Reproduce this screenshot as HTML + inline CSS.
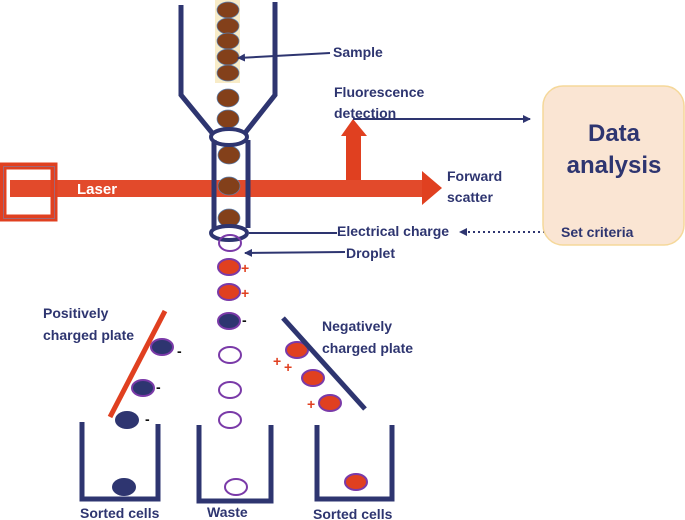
<!DOCTYPE html>
<html><head><style>body{margin:0;background:#fff}svg{display:block}text{font-family:"Liberation Sans",sans-serif;font-weight:bold;fill:#2e3570}</style></head>
<body>
<svg width="685" height="520" viewBox="0 0 685 520" xmlns="http://www.w3.org/2000/svg">
<defs><marker id="a" markerWidth="8" markerHeight="8" refX="7" refY="4" orient="auto" markerUnits="userSpaceOnUse"><path d="M0,0 L8,4 L0,8 z" fill="#2e3570"/></marker></defs>
<rect x="215" y="0" width="25" height="83" fill="#f8ecc8"/>
<!-- laser -->
<rect x="3" y="166" width="51" height="52" fill="#fff" stroke="#e04020" stroke-width="7"/>
<rect x="10" y="180" width="415" height="17" fill="#e04020" opacity="0.95"/>
<rect x="3.5" y="166.5" width="51" height="52" fill="none" stroke="#7a80b0" stroke-width="0.6"/>
<polygon points="422,171 442,188 422,205" fill="#e04020"/>
<text x="77" y="194" font-size="15" style="fill:#fff">Laser</text>
<g fill="none" stroke="#2e3570" stroke-width="5">
<polyline points="181,5 181,95 213,134"/>
<polyline points="275,2 275,95 245,133"/>
<line x1="214" y1="140" x2="214" y2="228"/><line x1="248" y1="140" x2="248" y2="228"/>
</g>
<g fill="#83401a" stroke="#5a7fb0" stroke-width="0.7">
<ellipse cx="228" cy="10" rx="11" ry="8"/><ellipse cx="228" cy="26" rx="11" ry="8"/><ellipse cx="228" cy="41" rx="11" ry="8"/><ellipse cx="228" cy="57" rx="11" ry="8"/><ellipse cx="228" cy="73" rx="11" ry="8"/>
<ellipse cx="228" cy="98" rx="11" ry="9"/><ellipse cx="228" cy="119" rx="11" ry="9"/><ellipse cx="229" cy="155" rx="11" ry="9"/><ellipse cx="229" cy="186" rx="11" ry="9"/><ellipse cx="229" cy="218" rx="11" ry="9"/>
</g>
<g fill="none" stroke="#2e3570" stroke-width="4">
<ellipse cx="229" cy="137" rx="18" ry="8"/><ellipse cx="229" cy="233" rx="18" ry="7"/>
</g>
<rect x="346" y="135" width="15" height="45" fill="#e04020"/>
<polygon points="341,136 353,119 367,136" fill="#e04020"/>
<line x1="353" y1="119" x2="530" y2="119" stroke="#2e3570" stroke-width="2" marker-end="url(#a)"/>
<line x1="330" y1="53" x2="238" y2="58" stroke="#2e3570" stroke-width="2" marker-end="url(#a)"/>
<line x1="249" y1="233" x2="337" y2="233" stroke="#2e3570" stroke-width="2"/>
<line x1="550" y1="232" x2="460" y2="232" stroke="#2e3570" stroke-width="2" stroke-dasharray="2,3" marker-end="url(#a)"/>
<line x1="345" y1="252" x2="245" y2="253" stroke="#2e3570" stroke-width="2" marker-end="url(#a)"/>
<rect x="543" y="86" width="141" height="159" rx="20" fill="#fae5d3" stroke="#f5d89a" stroke-width="1.5"/>
<text x="614" y="141" font-size="24" text-anchor="middle">Data</text>
<text x="614" y="173" font-size="24" text-anchor="middle">analysis</text>
<g font-size="14">
<text x="333" y="57">Sample</text>
<text x="334" y="97">Fluorescence</text><text x="334" y="118">detection</text>
<text x="447" y="181">Forward</text><text x="447" y="202">scatter</text>
<text x="337" y="236">Electrical charge</text>
<text x="561" y="237">Set criteria</text>
<text x="346" y="258">Droplet</text>
<text x="43" y="318">Positively</text><text x="43" y="340">charged plate</text>
<text x="322" y="331">Negatively</text><text x="322" y="353">charged plate</text>
<text x="80" y="518">Sorted cells</text><text x="207" y="517">Waste</text><text x="313" y="519">Sorted cells</text>
</g>
<g stroke="#7a3aa8" stroke-width="2">
<ellipse cx="230" cy="243" rx="11" ry="8" fill="none"/>
<ellipse cx="229" cy="267" rx="11" ry="8" fill="#e04020"/>
<ellipse cx="229" cy="292" rx="11" ry="8" fill="#e04020"/>
<ellipse cx="229" cy="321" rx="11" ry="8" fill="#2e3570"/>
<ellipse cx="230" cy="355" rx="11" ry="8" fill="none"/>
<ellipse cx="230" cy="390" rx="11" ry="8" fill="none"/>
<ellipse cx="230" cy="420" rx="11" ry="8" fill="none"/>
<ellipse cx="236" cy="487" rx="11" ry="8" fill="none"/>
<ellipse cx="162" cy="347" rx="11" ry="8" fill="#2e3570"/>
<ellipse cx="143" cy="388" rx="11" ry="8" fill="#2e3570"/>
<ellipse cx="297" cy="350" rx="11" ry="8" fill="#e04020"/>
<ellipse cx="313" cy="378" rx="11" ry="8" fill="#e04020"/>
<ellipse cx="330" cy="403" rx="11" ry="8" fill="#e04020"/>
<ellipse cx="356" cy="482" rx="11" ry="8" fill="#e04020"/>
</g>
<ellipse cx="127" cy="420" rx="12" ry="9" fill="#2e3570"/>
<ellipse cx="124" cy="487" rx="12" ry="9" fill="#2e3570"/>
<g font-size="14">
<text x="241" y="273" style="fill:#e04020">+</text><text x="241" y="298" style="fill:#e04020">+</text>
<text x="273" y="366" style="fill:#e04020">+</text><text x="284" y="372" style="fill:#e04020">+</text><text x="307" y="409" style="fill:#e04020">+</text>
</g>
<g font-size="14"><text x="242" y="325" style="fill:#111">-</text><text x="177" y="356" style="fill:#111">-</text><text x="156" y="392" style="fill:#111">-</text><text x="145" y="424" style="fill:#111">-</text></g>
<line x1="110" y1="417" x2="165" y2="311" stroke="#e04020" stroke-width="5"/>
<line x1="283" y1="318" x2="365" y2="409" stroke="#2e3570" stroke-width="5"/>
<g fill="none" stroke="#2e3570" stroke-width="5">
<polyline points="82,422 82,499 158,499 158,424"/>
<polyline points="199,425 199,501 271,501 271,425"/>
<polyline points="317,425 317,499 392,499 392,425"/>
</g>
</svg>
</body></html>
